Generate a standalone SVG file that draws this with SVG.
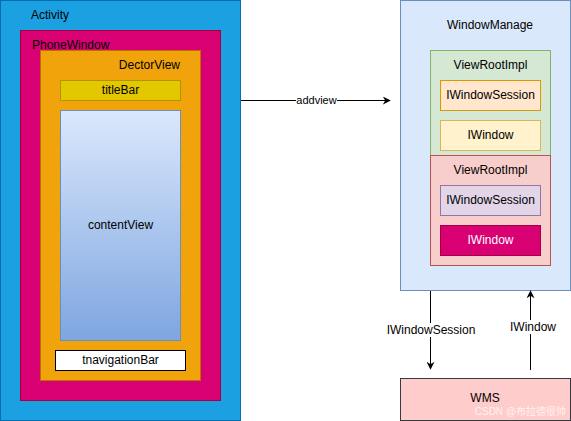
<svg xmlns="http://www.w3.org/2000/svg" width="571" height="421" viewBox="0 0 571 421">
<defs>
<style>
text{font-family:"Liberation Sans",Arial,sans-serif;font-size:12px;fill:#000}
.c{text-anchor:middle}
.e{stroke:#000;stroke-width:1;fill:none}
.lbl{font-size:11px}
</style>
<linearGradient id="g" x1="0" y1="0" x2="0" y2="1">
<stop offset="0" stop-color="#dae8fc"/>
<stop offset="1" stop-color="#7ea6e0"/>
</linearGradient>
<marker id="a" viewBox="0 0 10 10" refX="9" refY="5" markerWidth="8" markerHeight="8" markerUnits="userSpaceOnUse" orient="auto">
<path d="M0,0 L10,5 L0,10 L3,5 Z" fill="#000"/>
</marker>
</defs>
<rect width="571" height="421" fill="#fff"/>
<g id="activity">
<rect x="0.5" y="0.5" width="240" height="420" fill="#1ba1e2" stroke="#006eaf"/>
<text x="31" y="19">Activity</text>
</g>
<g id="phonewindow">
<rect x="20.5" y="30.5" width="200" height="370" fill="#d80073" stroke="#a50040"/>
<text x="32" y="48.5">PhoneWindow</text>
</g>
<g id="dectorview">
<rect x="40.5" y="50.5" width="160" height="330" fill="#f0a30a" stroke="#bd7000"/>
<text x="180" y="68.5" text-anchor="end">DectorView</text>
</g>
<g id="titlebar">
<rect x="60.5" y="80.5" width="120" height="20" fill="#e3c800" stroke="#b09500"/>
<text x="120.5" y="94" class="c">titleBar</text>
</g>
<g id="contentview">
<rect x="60.5" y="110.5" width="120" height="230" fill="url(#g)" stroke="#6c8ebf"/>
<text x="120.5" y="229" class="c">contentView</text>
</g>
<g id="navbar">
<rect x="55.5" y="350.5" width="130" height="20" fill="#fff" stroke="#000"/>
<text x="120.5" y="364" class="c">tnavigationBar</text>
</g>
<g id="windowmanage">
<rect x="400.5" y="0.5" width="170" height="290" fill="#dae8fc" stroke="#6c8ebf"/>
<text x="490" y="28.5" class="c">WindowManage</text>
</g>
<g id="viewrootimpl1">
<rect x="430.5" y="50.5" width="120" height="105" fill="#d5e8d4" stroke="#82b366"/>
<text x="490.5" y="68.5" class="c">ViewRootImpl</text>
</g>
<g id="iwindowsession1">
<rect x="440.5" y="80.5" width="100" height="30" fill="#ffe6cc" stroke="#d79b00"/>
<text x="490.5" y="99" class="c">IWindowSession</text>
</g>
<g id="iwindow1">
<rect x="440.5" y="120.5" width="100" height="30" fill="#fff2cc" stroke="#d6b656"/>
<text x="490.5" y="139" class="c">IWindow</text>
</g>
<g id="viewrootimpl2">
<rect x="430.5" y="155.5" width="120" height="110" fill="#f8cecc" stroke="#b85450"/>
<text x="490.5" y="173.5" class="c">ViewRootImpl</text>
</g>
<g id="iwindowsession2">
<rect x="440.5" y="185.5" width="100" height="30" fill="#e1d5e7" stroke="#9673a6"/>
<text x="490.5" y="204" class="c">IWindowSession</text>
</g>
<g id="iwindow2">
<rect x="440.5" y="225.5" width="100" height="30" fill="#d80073" stroke="#a50040"/>
<text x="490.5" y="244" class="c" style="fill:#fff">IWindow</text>
</g>
<g id="wms">
<rect x="400.5" y="378.5" width="170" height="42" fill="#ffcccc" stroke="#36393d"/>
<text x="485" y="402" class="c">WMS</text>
</g>
<g id="connectors">
<line class="e" x1="241" y1="100.5" x2="390" y2="100.5" marker-end="url(#a)"/>
<rect x="296" y="94" width="41" height="13" fill="#fff"/>
<text x="316.5" y="104" class="c lbl">addview</text>
<line class="e" x1="430.5" y1="291" x2="430.5" y2="369" marker-end="url(#a)"/>
<rect x="387" y="323" width="88" height="14" fill="#fff"/>
<text x="431" y="334" class="c">IWindowSession</text>
<line class="e" x1="530.5" y1="370" x2="530.5" y2="291" marker-end="url(#a)"/>
<rect x="510" y="320" width="46" height="14" fill="#fff"/>
<text x="533" y="331" class="c">IWindow</text>
</g>
<text x="566" y="415" text-anchor="end" style="fill:#ffffff;fill-opacity:0.75;font-size:10px;font-family:'Liberation Sans','Noto Sans CJK SC',sans-serif">CSDN @布拉德很帅</text>
</svg>
